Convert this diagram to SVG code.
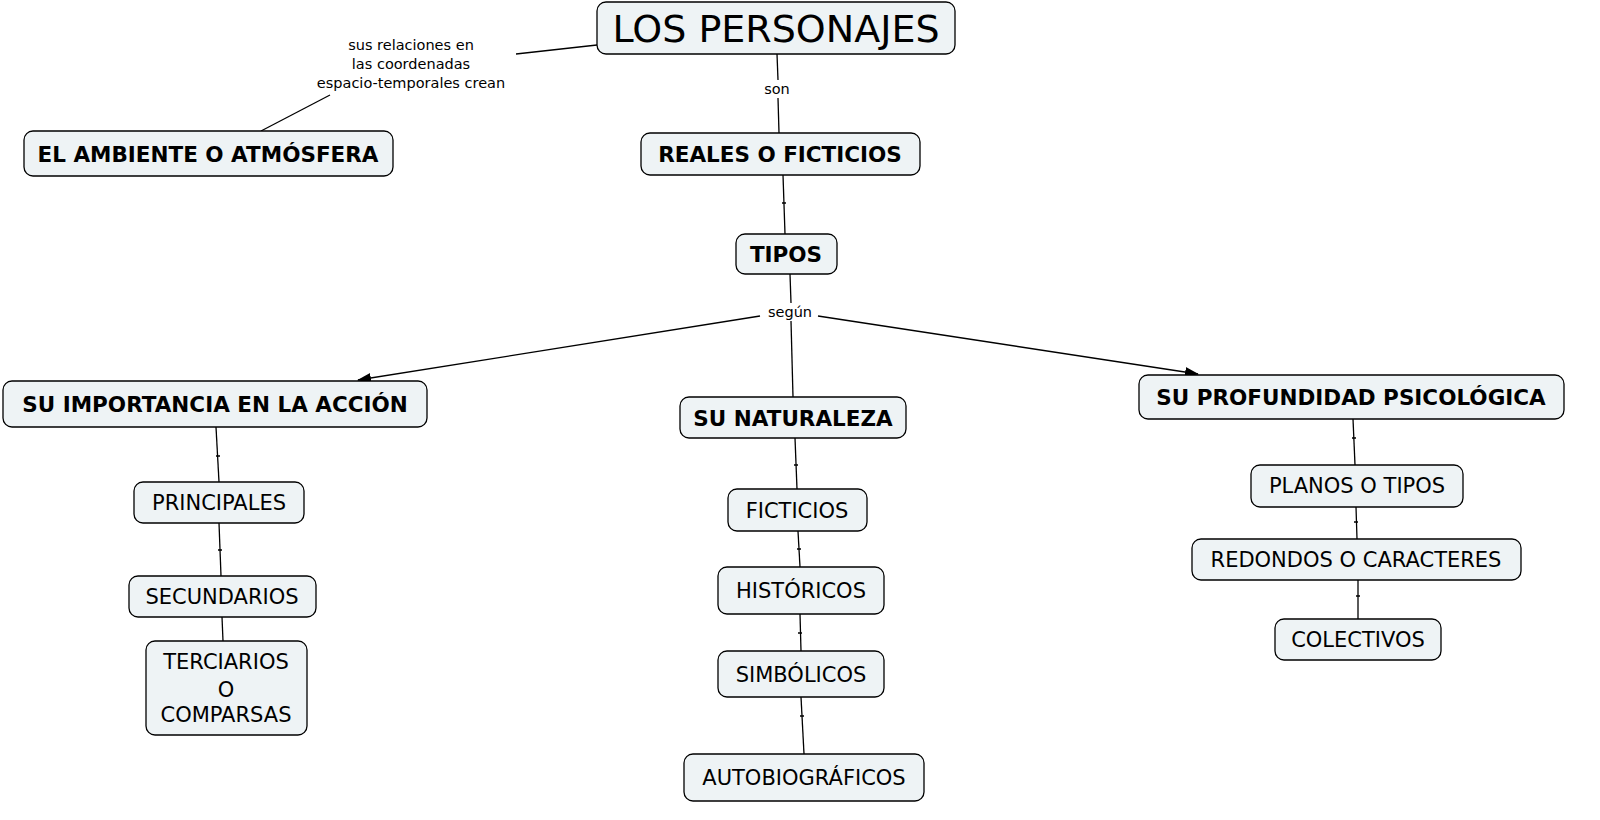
<svg xmlns="http://www.w3.org/2000/svg" width="1600" height="820" viewBox="0 0 1600 820">
<defs>
<style>
.n rect{fill:#eef3f5;stroke:#000;stroke-width:1.3}
text{font-family:"DejaVu Sans",Verdana,sans-serif;fill:#000;text-anchor:middle}
.b{font-weight:bold;font-size:21.5px}
.r{font-size:21px}
.l{font-size:14.5px}
#c line,#c path{stroke:#000;stroke-width:1.3;fill:none}
</style>
<marker id="a" markerWidth="14" markerHeight="10" refX="13" refY="5" orient="auto" markerUnits="userSpaceOnUse"><path d="M0,0L14,5L0,10z" fill="#000"/></marker>
</defs>
<rect width="1600" height="820" fill="#fff"/>
<g id="c">
<line x1="597" y1="45" x2="516" y2="54"/>
<line x1="330" y1="95" x2="261" y2="131"/>
<line x1="777" y1="54" x2="778" y2="80"/>
<line x1="778" y1="98" x2="779" y2="133"/>
<line x1="783" y1="175" x2="785" y2="234"/>
<line x1="790" y1="274" x2="791" y2="303"/>
<line x1="760" y1="316" x2="358" y2="380" marker-end="url(#a)"/>
<line x1="818" y1="316" x2="1198" y2="374" marker-end="url(#a)"/>
<line x1="791" y1="321" x2="793" y2="397"/>
<line x1="216" y1="427" x2="219" y2="482"/>
<line x1="219" y1="523" x2="221" y2="576"/>
<line x1="222" y1="617" x2="223" y2="641"/>
<line x1="795" y1="438" x2="797" y2="489"/>
<line x1="798" y1="531" x2="800" y2="567"/>
<line x1="800" y1="614" x2="801" y2="651"/>
<line x1="801" y1="697" x2="804" y2="754"/>
<line x1="1353" y1="419" x2="1355" y2="465"/>
<line x1="1356" y1="507" x2="1357" y2="539"/>
<line x1="1358" y1="580" x2="1358" y2="619"/>
<path d="M782,203h4M216,456h4M218,550h4M794,465h4M797,549h4M798,633h4M800,716h4M1352,438h4M1354,522h4M1356,596h4"/>
<text class="l" x="411" y="50">sus relaciones en</text>
<text class="l" x="411" y="69">las coordenadas</text>
<text class="l" x="411" y="88">espacio-temporales crean</text>
<text class="l" x="777" y="94">son</text>
<text class="l" x="790" y="317">según</text>
</g>
<g id="n1" class="n"><rect x="597" y="2" width="358" height="52" rx="9"/><text x="776" y="42" style="font-size:38px">LOS PERSONAJES</text></g>
<g id="n2" class="n"><rect x="24" y="131" width="369" height="45" rx="9"/><text class="b" x="208" y="162">EL AMBIENTE O ATMÓSFERA</text></g>
<g id="n3" class="n"><rect x="641" y="133" width="279" height="42" rx="9"/><text class="b" x="780" y="162">REALES O FICTICIOS</text></g>
<g id="n4" class="n"><rect x="736" y="234" width="101" height="40" rx="9"/><text class="b" x="786" y="262">TIPOS</text></g>
<g id="n5" class="n"><rect x="3" y="381" width="424" height="46" rx="9"/><text class="b" x="215" y="412">SU IMPORTANCIA EN LA ACCIÓN</text></g>
<g id="n6" class="n"><rect x="680" y="397" width="226" height="41" rx="9"/><text class="b" x="793" y="426">SU NATURALEZA</text></g>
<g id="n7" class="n"><rect x="1139" y="375" width="425" height="44" rx="9"/><text class="b" x="1351" y="405">SU PROFUNDIDAD PSICOLÓGICA</text></g>
<g id="n8" class="n"><rect x="134" y="482" width="170" height="41" rx="9"/><text class="r" x="219" y="510">PRINCIPALES</text></g>
<g id="n9" class="n"><rect x="129" y="576" width="187" height="41" rx="9"/><text class="r" x="222" y="604">SECUNDARIOS</text></g>
<g id="n10" class="n"><rect x="146" y="641" width="161" height="94" rx="9"/><text class="r" x="226" y="669">TERCIARIOS</text><text class="r" x="226" y="697">O</text><text class="r" x="226" y="722">COMPARSAS</text></g>
<g id="n11" class="n"><rect x="728" y="489" width="139" height="42" rx="9"/><text class="r" x="797" y="518">FICTICIOS</text></g>
<g id="n12" class="n"><rect x="718" y="567" width="166" height="47" rx="9"/><text class="r" x="801" y="598">HISTÓRICOS</text></g>
<g id="n13" class="n"><rect x="718" y="651" width="166" height="46" rx="9"/><text class="r" x="801" y="682">SIMBÓLICOS</text></g>
<g id="n14" class="n"><rect x="684" y="754" width="240" height="47" rx="9"/><text class="r" x="804" y="785">AUTOBIOGRÁFICOS</text></g>
<g id="n15" class="n"><rect x="1251" y="465" width="212" height="42" rx="9"/><text class="r" x="1357" y="493">PLANOS O TIPOS</text></g>
<g id="n16" class="n"><rect x="1192" y="539" width="329" height="41" rx="9"/><text class="r" x="1356" y="567">REDONDOS O CARACTERES</text></g>
<g id="n17" class="n"><rect x="1275" y="619" width="166" height="41" rx="9"/><text class="r" x="1358" y="647">COLECTIVOS</text></g>
</svg>
